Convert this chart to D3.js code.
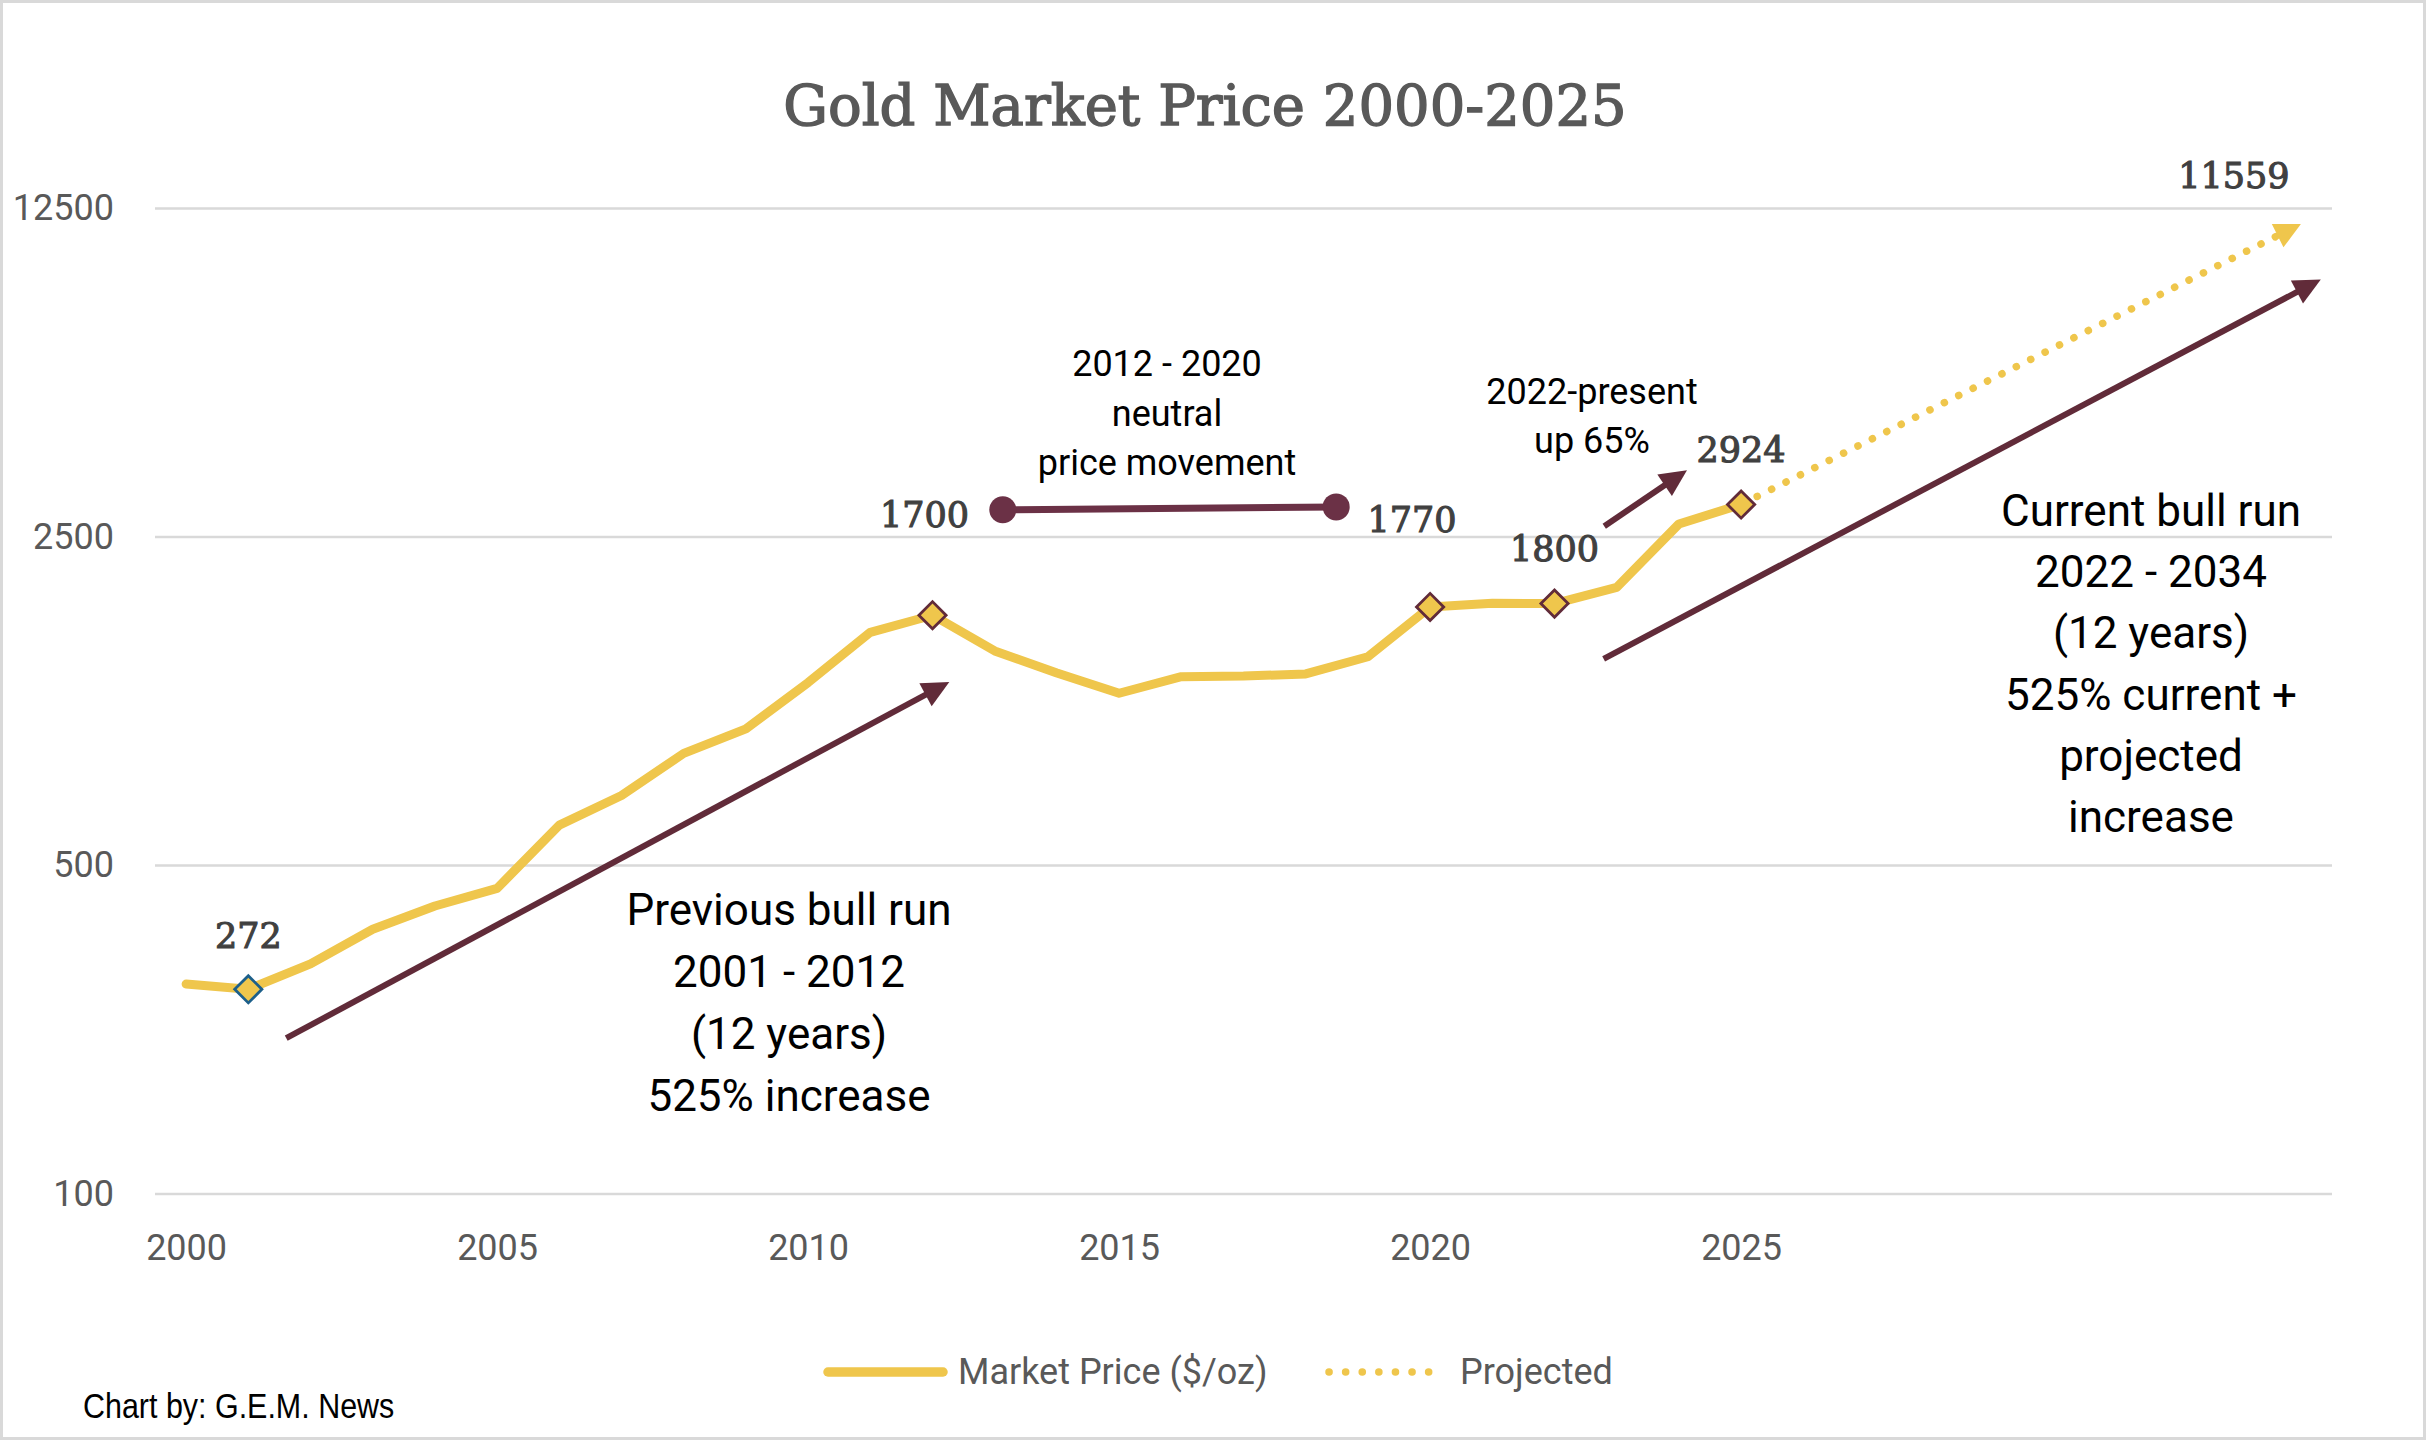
<!DOCTYPE html>
<html>
<head>
<meta charset="utf-8">
<script src="https://cdn.jsdelivr.net/npm/d3@7"></script>
<style>
  body { margin: 0; background: #fff; }
  svg { display: block; }
</style>
</head>
<body>
<div id="chart"></div>
<script>
// Categories on the x axis (Excel line chart, one slot per year)
const categoryYears = [2000, 2001, 2002, 2003, 2004, 2005, 2006, 2007, 2008, 2009,
  2010, 2011, 2012, 2013, 2014, 2015, 2016, 2017, 2018, 2019,
  2020, 2021, 2022, 2023, 2024, 2025, 2026, 2027, 2028, 2029,
  2030, 2031, 2032, 2033, 2034];
const xTickLabels = [2000, 2005, 2010, 2015, 2020, 2025];
const yTickValues = [100, 500, 2500, 12500];

// Market price series ($/oz)
const priceYears = [2000, 2001, 2002, 2003, 2004, 2005, 2006, 2007, 2008, 2009,
  2010, 2011, 2012, 2013, 2014, 2015, 2016, 2017, 2018, 2019,
  2020, 2021, 2022, 2023, 2024, 2025];
const priceValues = [279, 272, 308, 365, 409, 446, 608, 703, 864, 974,
  1222, 1563, 1700, 1427, 1281, 1160, 1258, 1262, 1275, 1387,
  1770, 1802, 1800, 1949, 2658, 2924];

// Projected series
const projectedYears = [2025, 2034];
const projectedValues = [2924, 11559];

// Points with a diamond marker, and points with a data label
const markerYears = [2001, 2012, 2020, 2022, 2025];
const labelYears = [2001, 2012, 2020, 2022, 2025, 2034];

// Annotation shapes in data units: [year, price]
const prevRunArrow = [[2001.61, 214], [2012.27, 1226]];
const currentRunArrow = [[2022.79, 1373], [2034.32, 8810]];
const recentArrow = [[2022.80, 2630], [2024.13, 3460]];
const neutralSpan = [[2013.13, 2850], [2018.49, 2890]];

const prevRunText = ["Previous bull run", "2001 - 2012", "(12 years)", "525% increase"];
const currentRunText = ["Current bull run", "2022 - 2034", "(12 years)", "525% current +", "projected", "increase"];
const neutralText = ["2012 - 2020", "neutral", "price movement"];
const recentText = ["2022-present", "up 65%"];

const gold = "#EFC64C";
const maroon = "#612B39";
const grey = "#595959";
const sans = "Roboto, 'Noto Sans', sans-serif";
const slab = "'DejaVu Serif', serif";

const width = 2426;
const height = 1440;
const plot = { left: 155, right: 2332, top: 208, bottom: 1193.5 };

const svg = d3.select("#chart")
  .append("svg")
  .attr("width", width)
  .attr("height", height);

// chart border
svg.append("rect")
  .attr("x", 1.5).attr("y", 1.5)
  .attr("width", width - 3).attr("height", height - 3)
  .attr("fill", "#fff")
  .attr("stroke", "#D9D9D9")
  .attr("stroke-width", 3);

const x = d3.scalePoint()
  .domain(categoryYears)
  .range([plot.left, plot.right])
  .padding(0.5);

// fractional year -> pixel, for the drawn annotations
const xf = yr => x(2000) + (yr - 2000) * x.step();

const y = d3.scaleLog()
  .base(5)
  .domain([100, 12500])
  .range([plot.bottom, plot.top]);

// title
svg.append("text")
  .attr("x", 1205)
  .attr("y", 125)
  .attr("text-anchor", "middle")
  .attr("font-family", slab)
  .attr("font-size", 56)
  .attr("fill", grey)
  .attr("stroke", grey)
  .attr("stroke-width", 1.4)
  .text("Gold Market Price 2000-2025");

// y axis with gridlines
const yAxis = svg.append("g")
  .attr("transform", `translate(${plot.left},0)`)
  .call(d3.axisLeft(y)
    .tickValues(yTickValues)
    .tickFormat(d3.format("d"))
    .tickSize(-(plot.right - plot.left))
    .tickPadding(41));
yAxis.select(".domain").remove();
yAxis.selectAll("line").attr("stroke", "#D9D9D9").attr("stroke-width", 2.5);
yAxis.selectAll("text")
  .attr("font-family", sans)
  .attr("font-size", 36)
  .attr("fill", grey);

// x axis labels
const xAxis = svg.append("g")
  .attr("transform", `translate(0,${plot.bottom})`)
  .call(d3.axisBottom(x)
    .tickValues(xTickLabels)
    .tickSize(0)
    .tickPadding(41));
xAxis.select(".domain").remove();
xAxis.selectAll("text")
  .attr("font-family", sans)
  .attr("font-size", 36)
  .attr("fill", grey);

const priceData = priceYears.map((yr, i) => ({ year: yr, value: priceValues[i] }));
const projData = projectedYears.map((yr, i) => ({ year: yr, value: projectedValues[i] }));
const allPoints = priceData.concat(projData.slice(1));

const line = d3.line()
  .x(d => x(d.year))
  .y(d => y(d.value));

// arrow helper: line plus a solid triangular head at the end point
function arrow(pts, color, lineWidth) {
  const x0 = xf(pts[0][0]), y0 = y(pts[0][1]);
  const x1 = xf(pts[1][0]), y1 = y(pts[1][1]);
  const len = Math.hypot(x1 - x0, y1 - y0);
  const ux = (x1 - x0) / len, uy = (y1 - y0) / len;
  const headL = 27, headW = 26;
  const bx = x1 - ux * headL, by = y1 - uy * headL;
  svg.append("line")
    .attr("x1", x0).attr("y1", y0)
    .attr("x2", x1 - ux * (headL - 4)).attr("y2", y1 - uy * (headL - 4))
    .attr("stroke", color)
    .attr("stroke-width", lineWidth);
  svg.append("path")
    .attr("d", `M${x1},${y1}L${bx - uy * headW / 2},${by + ux * headW / 2}L${bx + uy * headW / 2},${by - ux * headW / 2}Z`)
    .attr("fill", color);
}

// annotation arrows
arrow(prevRunArrow, maroon, 6);
arrow(currentRunArrow, maroon, 6);
arrow(recentArrow, maroon, 6);

// neutral price movement bar
svg.append("line")
  .attr("x1", xf(neutralSpan[0][0])).attr("y1", y(neutralSpan[0][1]))
  .attr("x2", xf(neutralSpan[1][0])).attr("y2", y(neutralSpan[1][1]))
  .attr("stroke", "#6B3146")
  .attr("stroke-width", 7);
svg.selectAll(".endcap")
  .data(neutralSpan)
  .enter()
  .append("circle")
  .attr("class", "endcap")
  .attr("cx", d => xf(d[0]))
  .attr("cy", d => y(d[1]))
  .attr("r", 13.5)
  .attr("fill", "#6B3146");

// projected (dotted) line with arrow head
(function () {
  const x0 = x(projData[0].year), y0 = y(projData[0].value);
  const x1 = x(projData[1].year), y1 = y(projData[1].value);
  const len = Math.hypot(x1 - x0, y1 - y0);
  const ux = (x1 - x0) / len, uy = (y1 - y0) / len;
  const headL = 26, headW = 26;
  const bx = x1 - ux * headL, by = y1 - uy * headL;
  svg.append("line")
    .attr("x1", x0 + ux * 18).attr("y1", y0 + uy * 18)
    .attr("x2", bx).attr("y2", by)
    .attr("stroke", gold)
    .attr("stroke-width", 7.5)
    .attr("stroke-linecap", "round")
    .attr("stroke-dasharray", "0.1 16");
  svg.append("path")
    .attr("d", `M${x1},${y1}L${bx - uy * headW / 2},${by + ux * headW / 2}L${bx + uy * headW / 2},${by - ux * headW / 2}Z`)
    .attr("fill", gold);
})();

// market price line
svg.append("path")
  .datum(priceData)
  .attr("d", line)
  .attr("fill", "none")
  .attr("stroke", gold)
  .attr("stroke-width", 9)
  .attr("stroke-linejoin", "round")
  .attr("stroke-linecap", "round");

// diamond markers
const diamond = d3.symbol().type(d3.symbolSquare).size(370);
svg.selectAll(".marker")
  .data(priceData.filter(d => markerYears.includes(d.year)))
  .enter()
  .append("path")
  .attr("class", "marker")
  .attr("d", diamond)
  .attr("transform", d => `translate(${x(d.year)},${y(d.value)}) rotate(45)`)
  .attr("fill", gold)
  .attr("stroke", d => d.year === 2001 ? "#1C5F8A" : maroon)
  .attr("stroke-width", 2.8);

// data labels (offsets as placed in the original)
const labelOffset = {
  2001: [0, -41], 2012: [-8, -88], 2020: [-18, -75],
  2022: [0, -43], 2025: [0, -43], 2034: [-67, -36]
};
svg.selectAll(".label")
  .data(allPoints.filter(d => labelYears.includes(d.year)))
  .enter()
  .append("text")
  .attr("class", "label")
  .attr("x", d => x(d.year) + labelOffset[d.year][0])
  .attr("y", d => y(d.value) + labelOffset[d.year][1])
  .attr("text-anchor", "middle")
  .attr("font-family", slab)
  .attr("font-size", 35)
  .attr("fill", "#404040")
  .attr("stroke", "#404040")
  .attr("stroke-width", 1.1)
  .text(d => d.value);

// annotation text blocks
function textBlock(lines, cx, baseline, step, size) {
  svg.append("text")
    .attr("text-anchor", "middle")
    .attr("font-family", sans)
    .attr("font-size", size)
    .attr("fill", "#000")
    .selectAll("tspan")
    .data(lines)
    .enter()
    .append("tspan")
    .attr("x", cx)
    .attr("y", (d, i) => baseline + i * step)
    .text(d => d);
}
textBlock(prevRunText, 789, 925, 62, 44);
textBlock(currentRunText, 2151, 526, 61.2, 44);
textBlock(neutralText, 1167, 376, 49.5, 36);
textBlock(recentText, 1592, 404, 49, 36);

// legend
const legend = svg.append("g");
legend.append("line")
  .attr("x1", 828).attr("x2", 943)
  .attr("y1", 1372).attr("y2", 1372)
  .attr("stroke", gold)
  .attr("stroke-width", 9.5)
  .attr("stroke-linecap", "round");
legend.append("text")
  .attr("x", 958).attr("y", 1384)
  .attr("font-family", sans)
  .attr("font-size", 36)
  .attr("fill", grey)
  .text("Market Price ($/oz)");
legend.append("line")
  .attr("x1", 1329).attr("x2", 1445)
  .attr("y1", 1372).attr("y2", 1372)
  .attr("stroke", gold)
  .attr("stroke-width", 7.5)
  .attr("stroke-linecap", "round")
  .attr("stroke-dasharray", "0.1 16.5");
legend.append("text")
  .attr("x", 1460).attr("y", 1384)
  .attr("font-family", sans)
  .attr("font-size", 36)
  .attr("fill", grey)
  .text("Projected");

// credit, narrow face made by squeezing Liberation Sans
svg.append("text")
  .attr("transform", "translate(83,1418) scale(0.87,1)")
  .attr("font-family", "'Liberation Sans', Arial, sans-serif")
  .attr("font-size", 35)
  .attr("fill", "#000")
  .text("Chart by: G.E.M. News");
</script>
</body>
</html>
